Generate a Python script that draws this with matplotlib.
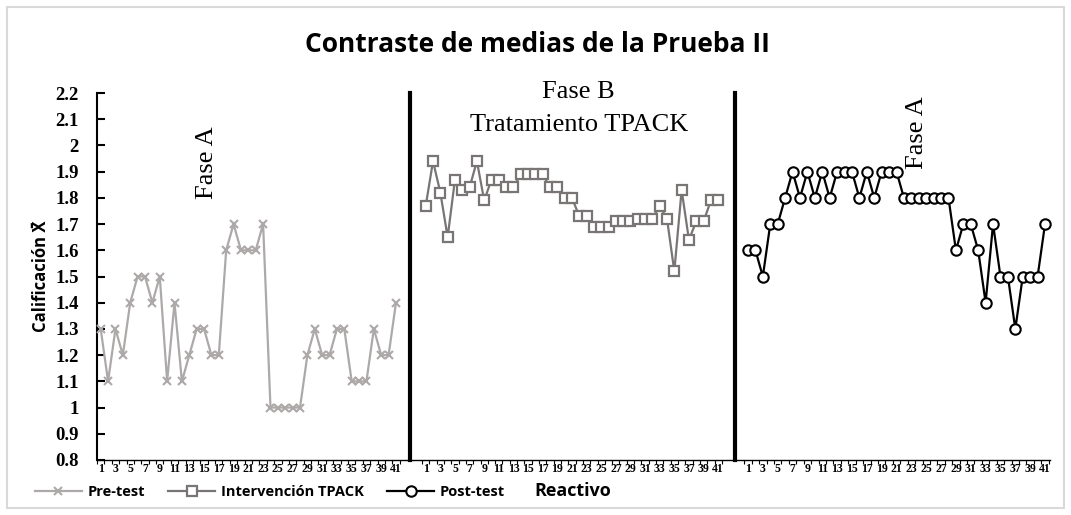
import numpy as np
import matplotlib.pyplot as plt
from matplotlib.patches import Rectangle

# Data (41 items per phase)
items = list(range(1, 42))
pre_test = [1.3, 1.1, 1.3, 1.2, 1.4, 1.5, 1.5, 1.4, 1.5, 1.1,
            1.4, 1.1, 1.2, 1.3, 1.3, 1.2, 1.2, 1.6, 1.7, 1.6,
            1.6, 1.6, 1.7, 1.0, 1.0, 1.0, 1.0, 1.0, 1.2, 1.3,
            1.2, 1.2, 1.3, 1.3, 1.1, 1.1, 1.1, 1.3, 1.2, 1.2, 1.4]
intervencion = [1.77, 1.94, 1.82, 1.65, 1.87, 1.83, 1.84, 1.94, 1.79, 1.87,
                1.87, 1.84, 1.84, 1.89, 1.89, 1.89, 1.89, 1.84, 1.84, 1.80,
                1.80, 1.73, 1.73, 1.69, 1.69, 1.69, 1.71, 1.71, 1.71, 1.72,
                1.72, 1.72, 1.77, 1.72, 1.52, 1.83, 1.64, 1.71, 1.71, 1.79, 1.79]
post_test = [1.6, 1.6, 1.5, 1.7, 1.7, 1.8, 1.9, 1.8, 1.9, 1.8,
             1.9, 1.8, 1.9, 1.9, 1.9, 1.8, 1.9, 1.8, 1.9, 1.9,
             1.9, 1.8, 1.8, 1.8, 1.8, 1.8, 1.8, 1.8, 1.6, 1.7,
             1.7, 1.6, 1.4, 1.7, 1.5, 1.5, 1.3, 1.5, 1.5, 1.5, 1.7]
y_ticks = [0.8, 0.9, 1.0, 1.1, 1.2, 1.3, 1.4, 1.5, 1.6, 1.7, 1.8, 1.9, 2.0, 2.1, 2.2]

W, H = 1071, 515
fig = plt.figure(figsize=(W / 100, H / 100), dpi=100)

serif = 'Liberation Serif'
sans = ['Open Sans', 'DejaVu Sans']


def px_axes(x0, x1, top=93, bottom=460):
    return fig.add_axes([x0 / W, (H - bottom) / H, (x1 - x0) / W, (bottom - top) / H])


def px_text(x, y, s, **kw):
    return fig.text(x / W, 1 - y / H, s, **kw)


# panel pixel bounds and x-limits so that item 1..41 land where they do in the picture
panels = [
    (97, 410, (0.595, 42.9)),
    (410, 735, (-1.15, 43.3)),
    (735, 1050, (-0.75, 41.67)),
]
series = [
    (pre_test, dict(color='#ada9a9', marker='x', markersize=6, markeredgewidth=1.5,
                    linewidth=1.6, label='Pre-test')),
    (intervencion, dict(color='#7a7575', marker='s', markersize=7.5, markerfacecolor='white',
                        markeredgewidth=1.6, linewidth=1.6, label='Intervención TPACK')),
    (post_test, dict(color='black', marker='o', markersize=7.5, markerfacecolor='white',
                     markeredgewidth=1.5, linewidth=1.6, label='Post-test')),
]

handles = []
for i, ((x0, x1, xl), (vals, style)) in enumerate(zip(panels, series)):
    ax = px_axes(x0, x1)
    ln, = ax.plot(items, vals, **style, clip_on=False, zorder=3)
    handles.append(ln)
    ax.set_xlim(*xl)
    ax.set_ylim(0.8, 2.2)
    ax.patch.set_alpha(0)
    for s in ['top', 'right']:
        ax.spines[s].set_visible(False)
    ax.spines['bottom'].set_linewidth(1.0)
    ax.set_xticks(items[::2])
    ax.set_xticklabels([str(v) for v in items[::2]], fontfamily=serif,
                       fontweight='bold', fontsize=8.5)
    ax.set_xticks(np.arange(0.5, 42, 1), minor=True)
    ax.tick_params(axis='x', which='major', length=0, pad=2)
    ax.tick_params(axis='x', which='minor', length=3, width=0.8, direction='out')
    ax.set_yticks(y_ticks)
    if i == 0:
        ax.spines['left'].set_linewidth(1.5)
        ax.set_yticklabels([f'{v:g}' for v in y_ticks], fontfamily=serif,
                           fontweight='bold', fontsize=13.5)
        ax.tick_params(axis='y', direction='in', length=6, width=1.5, pad=13)
        ax.set_ylabel('Calificación X\u0304', fontfamily=sans, fontweight='bold',
                      fontsize=12, labelpad=4)
    else:
        ax.spines['left'].set_linewidth(3.0)
        ax.tick_params(axis='y', length=0, labelleft=False)

# phase labels
px_text(207, 163, 'Fase A', rotation=90, ha='center', va='center',
        fontfamily=serif, fontsize=19)
px_text(578, 97.5, 'Fase B', ha='center', va='baseline', fontfamily=serif, fontsize=19)
px_text(579, 131, 'Tratamiento TPACK', ha='center', va='baseline',
        fontfamily=serif, fontsize=19)
px_text(917, 133, 'Fase A', rotation=90, ha='center', va='center',
        fontfamily=serif, fontsize=19)

px_text(537, 45, 'Contraste de medias de la Prueba II', ha='center', va='center',
        fontfamily=sans, fontweight='bold', fontsize=19)

fig.legend(handles=handles, loc='center left', bbox_to_anchor=(22 / W, 1 - 492 / H),
           ncol=3, frameon=False, handlelength=3.2, handletextpad=0.4,
           columnspacing=1.6, prop=dict(family=sans, weight='bold', size=10.5))
px_text(573, 491, 'Reactivo', ha='center', va='center',
        fontfamily=sans, fontweight='bold', fontsize=13)

fig.patches.append(Rectangle((7 / W, 1 - 508 / H), (1064 - 7) / W, (508 - 7) / H,
                             transform=fig.transFigure, fill=False,
                             edgecolor='#d9d9d9', linewidth=1.5))

fig.savefig('out.png', dpi=100)
